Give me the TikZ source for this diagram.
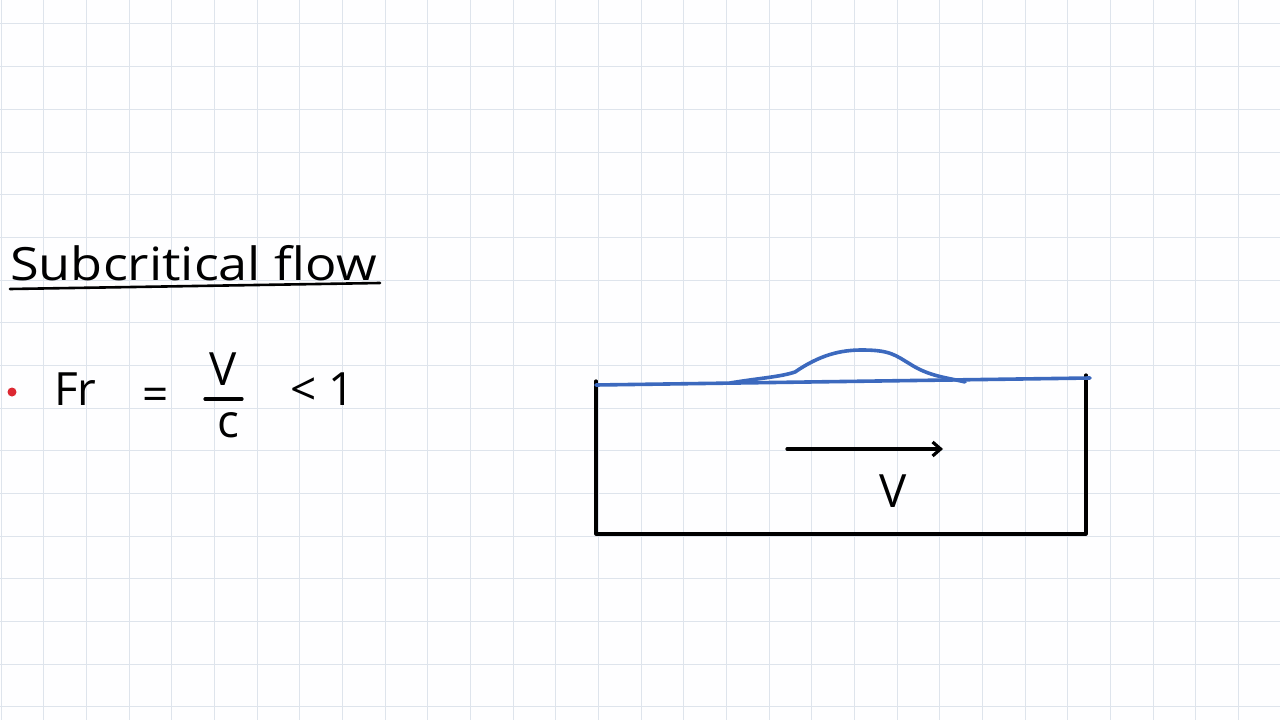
\documentclass[tikz,border=0pt]{standalone}
\usepackage{fontspec}
\setmainfont{Open Sans}
\usetikzlibrary{arrows.meta}
\definecolor{gridc}{RGB}{222,228,236}
\definecolor{waterc}{RGB}{60,105,190}
\definecolor{dotc}{RGB}{220,40,50}
\begin{document}
\begin{tikzpicture}[x=1bp,y=-1bp,
  ink/.style={line width=3.2bp,line cap=round,line join=round},
  hand/.style={font=\fontsize{46}{46}\selectfont,inner sep=0pt}]
\fill[white!98!gridc] (0,0) rectangle (1280,720);
\useasboundingbox (0,0) rectangle (1280,720);
\foreach \i in {0,...,30} {\draw[gridc,line width=1bp] ({1+42.67*\i},0) -- ({1+42.67*\i},720);}
\foreach \j in {0,...,16} {\draw[gridc,line width=1bp] (0,{24+42.67*\j}) -- (1280,{24+42.67*\j});}
% title
\node[hand,anchor=base west,xscale=1.14] (title) at (10,280) {Subcritical flow};
\draw[ink,line width=2.6bp] (10,289) -- (380,283);
% formula
\fill[dotc] (12,392) circle (4.5bp);
\node[hand,anchor=base west] (fr) at (54,405) {Fr};
\node[hand,anchor=base] (eq) at (156,410) {=};
\node[hand,anchor=base] (vn) at (223,385) {V};
\draw[ink] (205,399) -- (242,399);
\node[hand,anchor=base] (cn) at (228,437) {c};
\node[hand,anchor=base west] (lt) at (290,405) {< 1};
% tank
\draw[ink] (596,381) -- (596,534) -- (1086,534) -- (1086,375);
\draw[waterc,line width=3.6bp,line cap=round] (596,385) -- (1090,378);
\draw[waterc,line width=3.6bp,line cap=round] (730,383) .. controls (760,378) and (780,377) .. (795,372)
  .. controls (820,355) and (840,350) .. (862,350) .. controls (890,350) and (895,355) .. (910,364)
  .. controls (930,377) and (950,378) .. (965,382);
% velocity
\coordinate (a1) at (787,449);
\coordinate (a2) at (943,449);
\draw[ink,-{Straight Barb[length=8bp,width=14bp]}] (a1) -- (a2);
\node[hand,anchor=base] (v) at (893,507) {V};
\end{tikzpicture}
\end{document}
